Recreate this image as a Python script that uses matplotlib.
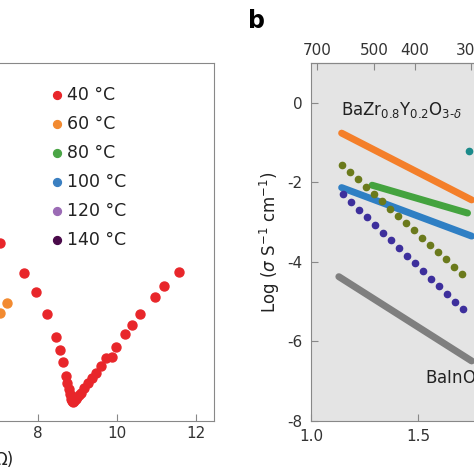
import numpy as np
import matplotlib.pyplot as plt

# panel a (cropped): Nyquist-type points
red_x = [7.03, 7.64, 7.95, 8.22, 8.46, 8.56, 8.63, 8.71, 8.74, 8.77, 8.80, 8.83, 8.86, 8.89,
         8.92, 8.95, 8.99, 9.03, 9.08, 9.15, 9.26, 9.36, 9.46, 9.58, 9.72, 9.88, 9.98,
         10.2, 10.38, 10.59, 10.96, 11.2, 11.58]
red_y = [178, 148, 129, 107, 84, 71, 59, 45, 38, 32, 27, 22, 20, 19,
         20, 22, 24, 26, 28, 33, 38, 43, 48, 55, 63, 64, 74,
         87, 96, 107, 124, 135, 149]
orange_x = [7.03, 7.2]
orange_y = [108, 118]
legend_labels = ['40 °C', '60 °C', '80 °C', '100 °C', '120 °C', '140 °C']
legend_colors = ['#e8262a', '#f28a30', '#4aa546', '#3a7fc1', '#9b6bb5', '#4a0a4a']

# panel b (cropped): Arrhenius lines, x = 1000/T
orange_line = ([1.143, 1.749], [-0.76, -2.44])
green_line = ([1.285, 1.73], [-2.07, -2.77])
blue_line = ([1.143, 1.749], [-2.13, -3.35])
grey_line = ([1.13, 1.749], [-4.37, -6.49])
olive_dots = ([1.143, 1.73], [-1.56, -4.42])
purple_dots = ([1.148, 1.73], [-2.3, -5.29])
teal_pt = ([1.738], [-1.2])
top_temps = [700, 500, 400, 300]

fig = plt.figure(figsize=(4.74, 4.74), dpi=100)

ax = fig.add_axes([0.0, 0.1118, 0.4515, 0.755])
ax.scatter(red_x, red_y, s=42, color=legend_colors[0], zorder=3)
ax.scatter(orange_x, orange_y, s=42, color=legend_colors[1], zorder=3)
ax.set_xlim(7.03, 12.46)
ax.set_ylim(0, 358)
ax.set_xticks([8, 10, 12])
ax.set_yticks([])
ax.spines['left'].set_visible(False)
for s in ['top', 'right', 'bottom']:
    ax.spines[s].set_color('#888888')
ax.tick_params(axis='x', labelsize=11, color='#888888', direction='in', length=5, colors='#333333')
for i, (lab, c) in enumerate(zip(legend_labels, legend_colors)):
    yy = 326 - i * 29
    ax.scatter([8.48], [yy], s=32, color=c, clip_on=False)
    ax.text(8.72, yy, lab, fontsize=12.5, va='center', color='#222222')
fig.text(0.028, 0.02, 'Ω)', fontsize=12, ha='right', color='#222222')

bx = fig.add_axes([0.656, 0.1118, 0.344, 0.755])
bx.set_facecolor('#e4e4e4')
bx.plot(*orange_line, color='#f47f2a', lw=5, solid_capstyle='round')
bx.plot(*green_line, color='#44a33f', lw=5, solid_capstyle='round')
bx.plot(*blue_line, color='#2f7fc4', lw=5, solid_capstyle='round')
bx.plot(*grey_line, color='#7f7f7f', lw=5, solid_capstyle='round')
xo = np.arange(olive_dots[0][0], olive_dots[0][1] + 1e-6, 0.0375)
bx.plot(xo, np.interp(xo, *olive_dots), 'o', color='#6b7a1c', ms=4.5)
xp = np.arange(purple_dots[0][0], purple_dots[0][1] + 1e-6, 0.0375)
bx.plot(xp, np.interp(xp, *purple_dots), 'o', color='#3d2f9c', ms=4.5)
bx.plot(*teal_pt, 'o', color='#1b8a8a', ms=4.5)
bx.text(1.138, -0.3, r'BaZr$_{0.8}$Y$_{0.2}$O$_{3\text{-}\delta}$', fontsize=12, color='#222222')
bx.text(1.53, -7.05, r'BaInO$_{2.5}$', fontsize=12, color='#222222')
bx.set_xlim(1.0, 1.76)
bx.set_ylim(-8, 1.0)
bx.set_xticks([1.0, 1.5])
bx.set_xticklabels(['1.0', '1.5'])
bx.set_yticks([0, -2, -4, -6, -8])
bx.set_yticklabels(['0', '-2', '-4', '-6', '-8'])
bx.spines['right'].set_visible(False)
for s in ['top', 'left', 'bottom']:
    bx.spines[s].set_color('#888888')
bx.tick_params(labelsize=11, color='#888888', direction='in', length=5, pad=6, labelcolor='#333333')
bx.set_ylabel(r'Log ($\sigma$ S$^{-1}$ cm$^{-1}$)', fontsize=12, color='#222222')
top = bx.secondary_xaxis('top', functions=(lambda x: x, lambda x: x))
top.set_xticks([1000 / (t + 273.15) for t in top_temps])
top.set_xticklabels([str(t) for t in top_temps])
top.tick_params(labelsize=11, color='#888888', direction='in', length=5, labelcolor='#333333')
top.spines['top'].set_color('#888888')
fig.text(0.523, 0.955, 'b', fontsize=17, fontweight='bold', va='center')

fig.savefig('out.png', dpi=100)
